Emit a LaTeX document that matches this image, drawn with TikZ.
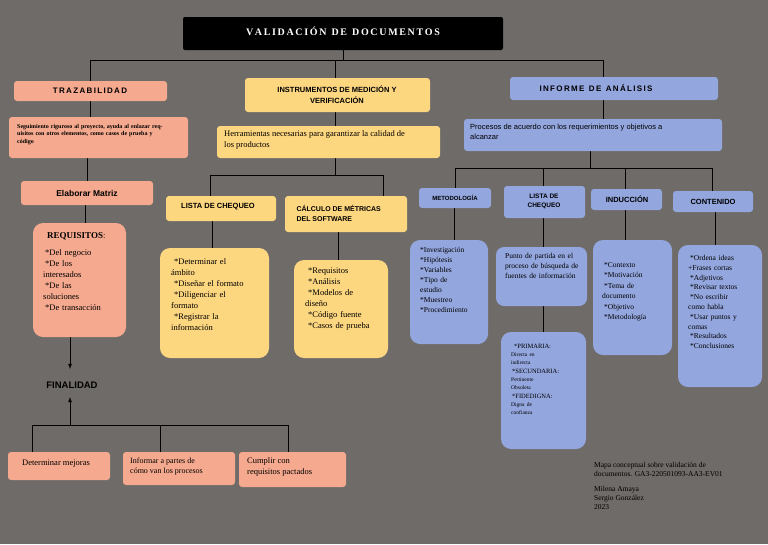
\documentclass[tikz,border=0pt]{standalone}
\usepackage{fontspec}
\setmainfont{Liberation Serif}
\newfontfamily\hd{Liberation Sans}
\begin{document}
\begin{tikzpicture}[x=1pt,y=-1pt,
 bx/.style={draw=none,rounded corners=3pt,inner sep=0pt},
 hdt/.style={font=\hd\bfseries\fontsize{7.5}{9}\selectfont,align=center},
 bt/.style={font=\fontsize{8.5}{11}\selectfont,align=left,inner sep=0pt},
 ln/.style={draw=black,line width=0.8pt}]
\definecolor{bg}{HTML}{6E6B68}
\definecolor{sal}{HTML}{F5A98E}
\definecolor{yel}{HTML}{FDD680}
\definecolor{blu}{HTML}{93A6DE}
\fill[bg] (0,0) rectangle (768,544);
\useasboundingbox (0,0) rectangle (768,544);
% connectors
\draw[ln] (343,50) -- (343,60);
\draw[ln] (90,60) -- (603,60);
\draw[ln] (90,60)--(90,81); \draw[ln] (335,60)--(335,78); \draw[ln] (603,60)--(603,77);
\draw[ln] (90,101)--(90,117); \draw[ln] (87,158)--(87,181); \draw[ln] (85,205)--(85,223);
\draw[ln,-latex] (70,337)--(70,369);
\draw[ln,-latex] (70,425)--(70,397);
\draw[ln] (32,425)--(288,425);
\draw[ln] (32,425)--(32,452); \draw[ln] (160,425)--(160,452); \draw[ln] (288,425)--(288,452);
\draw[ln] (335,112)--(335,126);
\draw[ln] (335,158)--(335,175); \draw[ln] (210,175)--(383,175);
\draw[ln] (210,175)--(210,196); \draw[ln] (383,175)--(383,196);
\draw[ln] (212,221)--(212,248); \draw[ln] (338,232)--(338,260);
\draw[ln] (603,100)--(603,119);
\draw[ln] (590,151)--(590,168); \draw[ln] (455,168)--(712,168);
\draw[ln] (455,168)--(455,188); \draw[ln] (543,168)--(543,186);
\draw[ln] (625,168)--(625,189); \draw[ln] (712,168)--(712,191);
\draw[ln] (454,208)--(454,240); \draw[ln] (543,218)--(543,247);
\draw[ln] (625,210)--(625,240); \draw[ln] (715,212)--(715,245);
\draw[ln] (543,306)--(543,332);
% title
\fill[black,rounded corners=2pt] (183,17) rectangle (503,50);
\node[font=\bfseries\fontsize{10}{12}\selectfont,text=white] (title) at (343,31) {V\,A\,L\,I\,D\,A\,C\,I\,Ó\,N\ \ D\,E\ \ D\,O\,C\,U\,M\,E\,N\,T\,O\,S};
% left
\fill[sal,bx] (14,81) rectangle (167,101);
\node[hdt,font=\hd\bfseries\fontsize{8}{10}\selectfont] (traz) at (90,91) {T\,R\,A\,Z\,A\,B\,I\,L\,I\,D\,A\,D};
\fill[sal,bx] (9,117) rectangle (188,158);
\node[bt,font=\bfseries\fontsize{6}{7.5}\selectfont,anchor=north west,text width=150] (seg) at (17,124) {Seguimiento riguroso al proyecto, ayuda al enlazar requisitos con otros elementos, como casos de prueba y código};
\fill[sal,bx] (21,181) rectangle (153,205);
\node[hdt,font=\hd\bfseries\fontsize{8.5}{10}\selectfont] (mat) at (87,193) {Elaborar Matriz};
\fill[sal,rounded corners=10pt] (33,223) rectangle (126,337);
\node[bt,anchor=north west,text width=80] (req) at (43,232) {\hspace*{4pt}{\bfseries\fontsize{9}{10}\selectfont REQUISITOS}:\\[6pt] \hspace*{2pt}*Del negocio\\{}\hspace*{2pt}*De los\\interesados\\{}\hspace*{2pt}*De las\\soluciones\\{}\hspace*{2pt}*De transacción};
\node[font=\hd\bfseries\fontsize{9.5}{11}\selectfont] (fin) at (72,385) {FINALIDAD};
\fill[sal,bx] (8,452) rectangle (110,480);
\node[bt] (b1) at (56,464) {Determinar mejoras};
\fill[sal,bx] (123,452) rectangle (235,485);
\node[bt,font=\fontsize{8}{10}\selectfont,anchor=north west] (b2) at (130,458) {Informar a partes de\\cómo van los procesos};
\fill[sal,bx] (239,452) rectangle (346,487);
\node[bt,anchor=north west] (b3) at (247,457) {Cumplir con\\requisitos pactados};
% middle
\fill[yel,bx] (245,78) rectangle (430,112);
\node[hdt] (ins) at (337,95) {INSTRUMENTOS DE MEDICIÓN Y\\[2pt]VERIFICACIÓN};
\fill[yel,bx] (217,126) rectangle (440,158);
\node[bt,anchor=north west] (her) at (224,130) {Herramientas necesarias para garantizar la calidad de\\los productos};
\fill[yel,bx] (166,196) rectangle (276,221);
\node[hdt] (lc) at (218,207) {LISTA DE CHEQUEO};
\fill[yel,bx] (285,196) rectangle (407,232);
\node[hdt,font=\hd\bfseries\fontsize{7}{9}\selectfont,align=left,anchor=north west] (cal) at (293,202) {CÁLCULO DE MÉTRICAS\\[1pt]DEL SOFTWARE};
\fill[yel,rounded corners=10pt] (160,248) rectangle (269,358);
\node[bt,anchor=north west,text width=90] (det) at (171,258) {\hspace*{3pt}*Determinar el\\ámbito\\{}\hspace*{3pt}*Diseñar el formato\\{}\hspace*{3pt}*Diligenciar el\\formato\\{}\hspace*{3pt}*Registrar la\\información};
\fill[yel,rounded corners=10pt] (294,260) rectangle (388,358);
\node[bt,anchor=north west,text width=82] (rq2) at (305,268) {\hspace*{3pt}*Requisitos\\{}\hspace*{3pt}*Análisis\\{}\hspace*{3pt}*Modelos de\\diseño\\{}\hspace*{3pt}*Código fuente\\{}\hspace*{3pt}*Casos de prueba};
% right
\fill[blu,bx] (510,77) rectangle (718,100);
\node[hdt,font=\hd\bfseries\fontsize{8}{10}\selectfont] (inf) at (596,88) {I\,N\,F\,O\,R\,M\,E\ \ D\,E\ \ A\,N\,Á\,L\,I\,S\,I\,S};
\fill[blu,bx] (464,119) rectangle (722,151);
\node[bt,font=\hd\fontsize{7.5}{10}\selectfont,anchor=north west] (pro) at (470,124) {Procesos de acuerdo con los requerimientos y objetivos a\\alcanzar};
\fill[blu,bx] (419,188) rectangle (491,208);
\node[hdt,font=\hd\bfseries\fontsize{6}{8}\selectfont] (met) at (455,198) {METODOLOGÍA};
\fill[blu,bx] (504,186) rectangle (585,218);
\node[hdt,font=\hd\bfseries\fontsize{6.5}{9}\selectfont] (lc2) at (544,201) {LISTA DE\\CHEQUEO};
\fill[blu,bx] (591,189) rectangle (662,210);
\node[hdt] (ind) at (627,199) {INDUCCIÓN};
\fill[blu,bx] (673,191) rectangle (753,212);
\node[hdt] (con) at (713,202) {CONTENIDO};
\fill[blu,rounded corners=10pt] (410,240) rectangle (488,344);
\node[bt,font=\fontsize{7.5}{10}\selectfont,anchor=north west,text width=70] (inv) at (420,247) {*Investigación\\{}*Hipótesis\\{}*Variables\\{}*Tipo de\\estudio\\{}*Muestreo\\{}*Procedimiento};
\fill[blu,rounded corners=8pt] (496,247) rectangle (587,306);
\node[bt,font=\fontsize{7.5}{10}\selectfont,anchor=north west,text width=80] (pun) at (505,253) {Punto de partida en el proceso de búsqueda de fuentes de información};
\fill[blu,rounded corners=10pt] (501,332) rectangle (586,449);
\node[bt,font=\fontsize{6.5}{8.5}\selectfont,anchor=north west,text width=75] (pri) at (511,344) {\hspace*{3pt}*PRIMARIA:\\{\fontsize{5.5}{8}\selectfont Directa en\\indirecta}\\{}\hspace*{1pt}*SECUNDARIA:\\{\fontsize{5.5}{8}\selectfont Pertinente\\Obsoleta}\\{}\hspace*{1pt}*FIDEDIGNA:\\{\fontsize{5.5}{8}\selectfont Digna de\\confianza}};
\fill[blu,rounded corners=10pt] (593,240) rectangle (672,355);
\node[bt,font=\fontsize{7.5}{10.5}\selectfont,anchor=north west,text width=72] (ctx) at (602,262) {\hspace*{2pt}*Contexto\\{}\hspace*{2pt}*Motivación\\{}\hspace*{2pt}*Tema de\\documento\\{}\hspace*{2pt}*Objetivo\\{}\hspace*{2pt}*Metodología};
\fill[blu,rounded corners=10pt] (678,245) rectangle (762,387);
\node[bt,font=\fontsize{7.5}{9.8}\selectfont,anchor=north west,text width=78] (ord) at (688,255) {\hspace*{2pt}*Ordena ideas\\+Frases cortas\\{}\hspace*{2pt}*Adjetivos\\{}\hspace*{2pt}*Revisar textos\\{}\hspace*{2pt}*No escribir\\como habla\\{}\hspace*{2pt}*Usar puntos y\\comas\\{}\hspace*{2pt}*Resultados\\{}\hspace*{2pt}*Conclusiones};
% footnote
\node[bt,font=\fontsize{7.5}{9}\selectfont,anchor=north west,text=black] (foot) at (594,462) {Mapa conceptual sobre validación de\\documentos. GA3-220501093-AA3-EV01\\[6pt]Milena Amaya\\Sergio González\\2023};
\end{tikzpicture}
\end{document}
